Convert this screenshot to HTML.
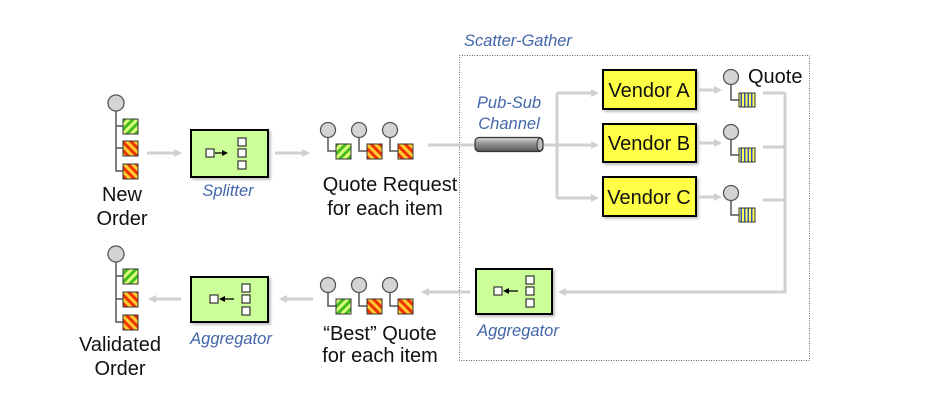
<!DOCTYPE html>
<html><head><meta charset="utf-8"><style>
html,body{margin:0;padding:0;background:#fff;}
svg{display:block;}
text{font-family:"Liberation Sans",Arial,sans-serif;}
.lbl{font-size:20px;fill:#111;}
.blue{font-size:16.5px;fill:#4466aa;font-style:italic;}
.gl{stroke:#d0d0d0;stroke-width:3;fill:none;}
.stem{stroke:#555;stroke-width:1.5;fill:none;}
.circ{fill:#d4d4d4;stroke:#555;stroke-width:1.3;}
.sq{fill:#fff;stroke:#333;stroke-width:1.2;}
</style></head><body>
<svg width="934" height="400" viewBox="0 0 934 400" xmlns="http://www.w3.org/2000/svg">
<defs>
<pattern id="grn" width="6" height="6" patternUnits="userSpaceOnUse" patternTransform="rotate(45)">
<rect width="6" height="6" fill="#44bb22"/><rect width="3" height="6" fill="#ddff77"/></pattern>
<pattern id="red" width="6" height="6" patternUnits="userSpaceOnUse" patternTransform="rotate(-45)">
<rect width="6" height="6" fill="#ee3300"/><rect width="3" height="6" fill="#ffcc33"/></pattern>
<pattern id="ylw" width="3.5" height="4" patternUnits="userSpaceOnUse">
<rect width="3.5" height="4" fill="#3355bb"/><rect width="2" height="4" fill="#ffff55"/></pattern>
<marker id="ah" markerWidth="8" markerHeight="8" refX="6" refY="4" orient="auto" markerUnits="userSpaceOnUse">
<path d="M0,0 L8,4 L0,8 z" fill="#d0d0d0"/></marker>
<linearGradient id="cyl" x1="0" y1="0" x2="0" y2="1">
<stop offset="0" stop-color="#ddd"/><stop offset="0.4" stop-color="#999"/><stop offset="1" stop-color="#555"/></linearGradient>
<filter id="sh"><feDropShadow dx="2" dy="2" stdDeviation="1" flood-color="#999" flood-opacity="0.6"/></filter>
</defs>

<rect x="459.5" y="55.5" width="350" height="305" fill="none" stroke="#666" stroke-width="1" stroke-dasharray="1,1.5"/>
<text x="464" y="46" class="blue">Scatter-Gather</text>

<!-- New Order -->
<path class="stem" d="M116,110 V171 H123 M116,126 H123 M116,148 H123"/>
<circle class="circ" cx="116" cy="103" r="8"/>
<rect x="123" y="119" width="15" height="15" fill="url(#grn)" stroke="#333"/>
<rect x="123" y="141" width="15" height="15" fill="url(#red)" stroke="#333"/>
<rect x="123" y="164" width="15" height="15" fill="url(#red)" stroke="#333"/>
<text x="122" y="201" class="lbl" text-anchor="middle">New</text>
<text x="122" y="225" class="lbl" text-anchor="middle">Order</text>

<line class="gl" x1="147" y1="153" x2="180" y2="153" marker-end="url(#ah)"/>

<!-- Splitter -->
<rect x="191" y="130" width="77" height="47" fill="#ccff99" stroke="#000" stroke-width="2" filter="url(#sh)"/>
<rect class="sq" x="206" y="149" width="8" height="8"/>
<line x1="215" y1="153" x2="224" y2="153" stroke="#000" stroke-width="1.3"/>
<path d="M228,153 L222,150 L222,156 z" fill="#000"/>
<rect class="sq" x="238" y="138" width="8" height="8"/>
<rect class="sq" x="238" y="149" width="8" height="8"/>
<rect class="sq" x="238" y="161" width="8" height="8"/>
<text x="228" y="196" class="blue" text-anchor="middle">Splitter</text>

<line class="gl" x1="275" y1="153" x2="308" y2="153" marker-end="url(#ah)"/>

<g>
<path class="stem" d="M328,137 V151 H336"/><circle class="circ" cx="328" cy="130" r="7.5"/>
<rect x="336" y="144" width="15" height="15" fill="url(#grn)" stroke="#333"/>
<path class="stem" d="M359,137 V151 H367"/><circle class="circ" cx="359" cy="130" r="7.5"/>
<rect x="367" y="144" width="15" height="15" fill="url(#red)" stroke="#333"/>
<path class="stem" d="M390,137 V151 H398"/><circle class="circ" cx="390" cy="130" r="7.5"/>
<rect x="398" y="144" width="15" height="15" fill="url(#red)" stroke="#333"/>
</g>
<text x="390" y="191" class="lbl" text-anchor="middle">Quote Request</text>
<text x="385" y="215" class="lbl" text-anchor="middle">for each item</text>

<line class="gl" x1="428" y1="145" x2="476" y2="145"/>

<text x="509" y="108" class="blue" text-anchor="middle">Pub-Sub</text>
<text x="509" y="129" class="blue" text-anchor="middle">Channel</text>
<rect x="475" y="137.5" width="68" height="14" rx="4" fill="url(#cyl)" stroke="#333" stroke-width="1.2"/>
<ellipse cx="540" cy="144.5" rx="3" ry="6.5" fill="#bbb" stroke="#333" stroke-width="1"/>

<path class="gl" d="M544,145 H557 M557,93 V198"/>
<line class="gl" x1="557" y1="93" x2="597" y2="93" marker-end="url(#ah)"/>
<line class="gl" x1="557" y1="145" x2="597" y2="145" marker-end="url(#ah)"/>
<line class="gl" x1="557" y1="198" x2="597" y2="198" marker-end="url(#ah)"/>

<g filter="url(#sh)">
<rect x="603" y="70" width="93" height="39" fill="#ffff44" stroke="#000" stroke-width="2"/>
<rect x="603" y="124" width="93" height="38" fill="#ffff44" stroke="#000" stroke-width="2"/>
<rect x="603" y="177" width="93" height="39" fill="#ffff44" stroke="#000" stroke-width="2"/>
</g>
<text x="649" y="97" class="lbl" text-anchor="middle">Vendor A</text>
<text x="649" y="150" class="lbl" text-anchor="middle">Vendor B</text>
<text x="649" y="204" class="lbl" text-anchor="middle">Vendor C</text>

<line class="gl" x1="699" y1="90" x2="720" y2="90" marker-end="url(#ah)"/>
<line class="gl" x1="699" y1="143" x2="720" y2="143" marker-end="url(#ah)"/>
<line class="gl" x1="699" y1="197" x2="720" y2="197" marker-end="url(#ah)"/>

<path class="stem" d="M731,84 V100 H739"/><circle class="circ" cx="731" cy="77" r="7.5"/>
<rect x="739" y="93" width="16" height="14" fill="url(#ylw)" stroke="#333"/>
<path class="stem" d="M731,139 V155 H739"/><circle class="circ" cx="731" cy="132" r="7.5"/>
<rect x="739" y="148" width="16" height="14" fill="url(#ylw)" stroke="#333"/>
<path class="stem" d="M731,200 V215 H739"/><circle class="circ" cx="731" cy="193" r="7.5"/>
<rect x="739" y="208" width="16" height="14" fill="url(#ylw)" stroke="#333"/>
<text x="748" y="83" class="lbl">Quote</text>

<path class="gl" d="M763,93 H785 M763,147 H785 M763,200 H785 M785,93 V292 H566"/>
<line class="gl" x1="570" y1="292" x2="560" y2="292" marker-end="url(#ah)"/>

<rect x="476" y="269" width="76" height="45" fill="#ccff99" stroke="#000" stroke-width="2" filter="url(#sh)"/>
<rect class="sq" x="494" y="287" width="8" height="8"/>
<line x1="508" y1="291" x2="518" y2="291" stroke="#000" stroke-width="1.3"/>
<path d="M503,291 L509,288 L509,294 z" fill="#000"/>
<rect class="sq" x="526" y="276" width="8" height="8"/>
<rect class="sq" x="526" y="287" width="8" height="8"/>
<rect class="sq" x="526" y="299" width="8" height="8"/>
<text x="518" y="336" class="blue" text-anchor="middle">Aggregator</text>

<line class="gl" x1="470" y1="292" x2="423" y2="292" marker-end="url(#ah)"/>

<g>
<path class="stem" d="M328,292 V306 H336"/><circle class="circ" cx="328" cy="285" r="7.5"/>
<rect x="336" y="299" width="15" height="15" fill="url(#grn)" stroke="#333"/>
<path class="stem" d="M359,292 V306 H367"/><circle class="circ" cx="359" cy="285" r="7.5"/>
<rect x="367" y="299" width="15" height="15" fill="url(#red)" stroke="#333"/>
<path class="stem" d="M390,292 V306 H398"/><circle class="circ" cx="390" cy="285" r="7.5"/>
<rect x="398" y="299" width="15" height="15" fill="url(#red)" stroke="#333"/>
</g>
<text x="380" y="340" class="lbl" text-anchor="middle">“Best” Quote</text>
<text x="380" y="362" class="lbl" text-anchor="middle">for each item</text>

<line class="gl" x1="313" y1="299" x2="281" y2="299" marker-end="url(#ah)"/>

<rect x="191" y="277" width="77" height="45" fill="#ccff99" stroke="#000" stroke-width="2" filter="url(#sh)"/>
<rect class="sq" x="210" y="295" width="8" height="8"/>
<line x1="224" y1="299" x2="234" y2="299" stroke="#000" stroke-width="1.3"/>
<path d="M219,299 L225,296 L225,302 z" fill="#000"/>
<rect class="sq" x="242" y="284" width="8" height="8"/>
<rect class="sq" x="242" y="295" width="8" height="8"/>
<rect class="sq" x="242" y="307" width="8" height="8"/>
<text x="231" y="344" class="blue" text-anchor="middle">Aggregator</text>

<line class="gl" x1="181" y1="299" x2="150" y2="299" marker-end="url(#ah)"/>

<path class="stem" d="M116,261 V322 H123 M116,276 H123 M116,299 H123"/>
<circle class="circ" cx="116" cy="254" r="8"/>
<rect x="123" y="269" width="15" height="15" fill="url(#grn)" stroke="#333"/>
<rect x="123" y="292" width="15" height="15" fill="url(#red)" stroke="#333"/>
<rect x="123" y="315" width="15" height="15" fill="url(#red)" stroke="#333"/>
<text x="120" y="351" class="lbl" text-anchor="middle">Validated</text>
<text x="120" y="375" class="lbl" text-anchor="middle">Order</text>
</svg>
</body></html>
